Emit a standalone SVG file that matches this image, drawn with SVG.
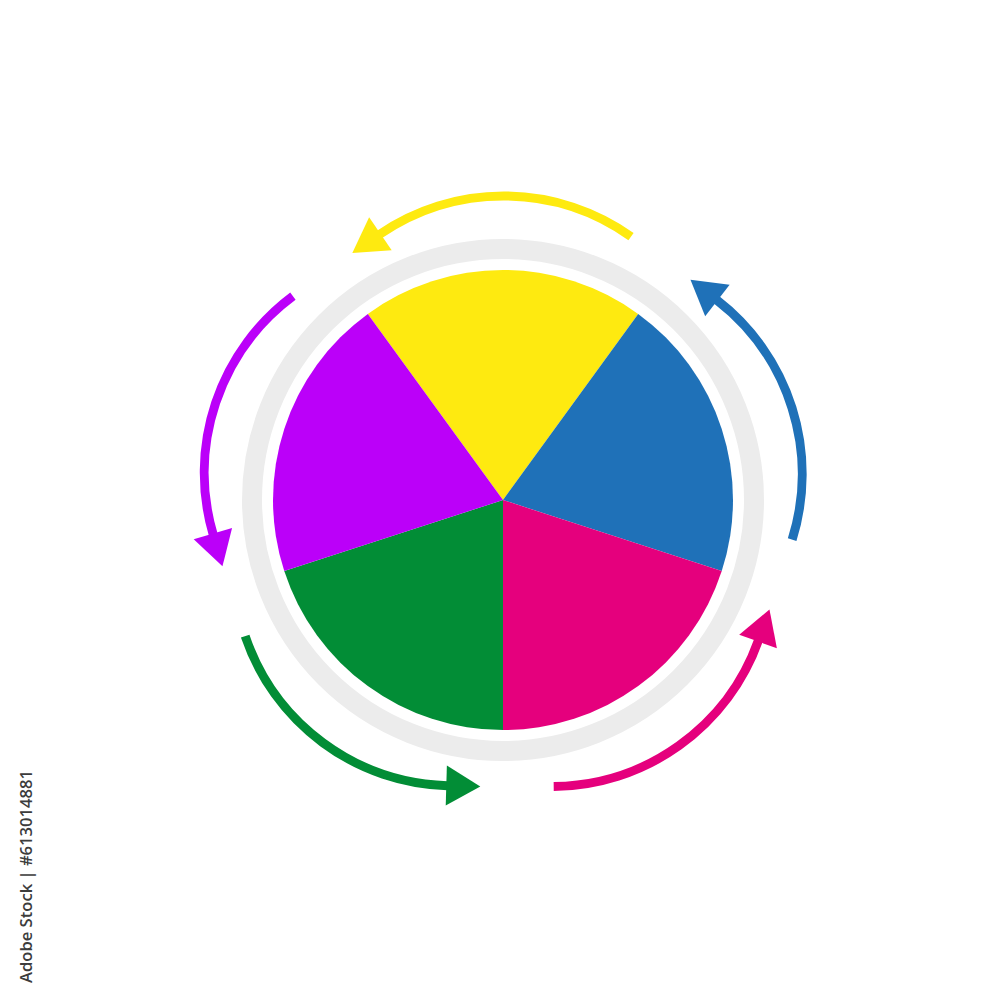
<svg xmlns="http://www.w3.org/2000/svg" width="1000" height="1000" viewBox="0 0 1000 1000">
  <style>
    .arc { fill: none; stroke-width: 9; stroke-linecap: butt; }
    .y { fill: #FEEA10; } .ys { stroke: #FEEA10; }
    .b { fill: #1F71B8; } .bs { stroke: #1F71B8; }
    .p { fill: #E5007D; } .ps { stroke: #E5007D; }
    .g { fill: #028D36; } .gs { stroke: #028D36; }
    .v { fill: #BB00F9; } .vs { stroke: #BB00F9; }
    .ring { fill: none; stroke: #ECECEC; stroke-width: 20; }
    .credit { font-family: "Open Sans", "Liberation Sans", sans-serif; font-weight: 600; font-size: 17px; fill: #3c3c3c; }
  </style>
  <defs>
    <marker id="head-y" markerUnits="userSpaceOnUse" viewBox="0 -20 34 40" refX="1" refY="0" markerWidth="34" markerHeight="40" orient="auto" overflow="visible"><path class="y" d="M0,-20 L34,0 L0,20 Z"/></marker>
    <marker id="head-b" markerUnits="userSpaceOnUse" viewBox="0 -20 34 40" refX="1" refY="0" markerWidth="34" markerHeight="40" orient="auto" overflow="visible"><path class="b" d="M0,-20 L34,0 L0,20 Z"/></marker>
    <marker id="head-p" markerUnits="userSpaceOnUse" viewBox="0 -20 34 40" refX="1" refY="0" markerWidth="34" markerHeight="40" orient="auto" overflow="visible"><path class="p" d="M0,-20 L34,0 L0,20 Z"/></marker>
    <marker id="head-g" markerUnits="userSpaceOnUse" viewBox="0 -20 34 40" refX="1" refY="0" markerWidth="34" markerHeight="40" orient="auto" overflow="visible"><path class="g" d="M0,-20 L34,0 L0,20 Z"/></marker>
    <marker id="head-v" markerUnits="userSpaceOnUse" viewBox="0 -20 34 40" refX="1" refY="0" markerWidth="34" markerHeight="40" orient="auto" overflow="visible"><path class="v" d="M0,-20 L34,0 L0,20 Z"/></marker>
  </defs>
  <rect width="1000" height="1000" fill="#FFFFFF"/>
  <g id="ring"><circle class="ring" cx="503" cy="500" r="251"/></g>
  <g id="segment-yellow"><path class="y" d="M503,500 L367.81,313.93 A230,230 0 0 1 638.19,313.93 Z"/></g>
  <g id="segment-blue"><path class="b" d="M503,500 L638.19,313.93 A230,230 0 0 1 721.74,571.07 Z"/></g>
  <g id="segment-pink"><path class="p" d="M503,500 L721.74,571.07 A230,230 0 0 1 503,730 Z"/></g>
  <g id="segment-green"><path class="g" d="M503,500 L503,730 A230,230 0 0 1 284.26,571.07 Z"/></g>
  <g id="segment-purple"><path class="v" d="M503,500 L284.26,571.07 A230,230 0 0 1 367.81,313.93 Z"/></g>
  <g id="connectors">
    <path id="arrow-yellow" class="arc ys" marker-end="url(#head-y)" d="M631.01,236.56 A220,220 0 0 0 379.58,234.37"/>
    <path id="arrow-blue" class="arc bs" marker-end="url(#head-b)" d="M792.15,539.64 A220,220 0 0 0 716.60,299.89"/>
    <path id="arrow-pink" class="arc ps" marker-end="url(#head-p)" d="M553.70,786.56 A220,220 0 0 0 758.39,640.55"/>
    <path id="arrow-green" class="arc gs" marker-end="url(#head-g)" d="M245.18,636.07 A220,220 0 0 0 447.30,785.63"/>
    <path id="arrow-purple" class="arc vs" marker-end="url(#head-v)" d="M292.91,296.19 A220,220 0 0 0 213.18,534.59"/>
  </g>
  <text class="credit" transform="translate(32,983) rotate(-90)" x="0" y="0" textLength="213" lengthAdjust="spacingAndGlyphs">Adobe Stock | #613014881</text>
</svg>
